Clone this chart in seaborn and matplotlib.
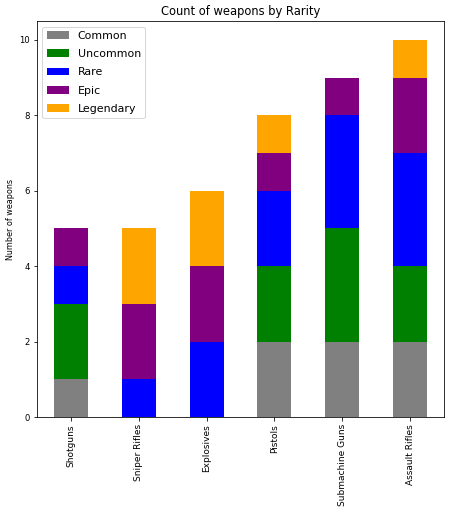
import matplotlib
matplotlib.use("Agg")
import matplotlib.pyplot as plt
import numpy as np
import pandas as pd
import seaborn as sns

categories = ["Shotguns", "Sniper Rifles", "Explosives", "Pistols",
              "Submachine Guns", "Assault Rifles"]
rarities = ["Common", "Uncommon", "Rare", "Epic", "Legendary"]
common = [1, 0, 0, 2, 2, 2]
uncommon = [2, 0, 0, 2, 3, 2]
rare = [1, 1, 2, 2, 3, 3]
epic = [1, 2, 2, 1, 1, 2]
legendary = [0, 2, 2, 1, 0, 1]
colors = ["grey", "green", "blue", "purple", "orange"]

df = pd.DataFrame({"Common": common, "Uncommon": uncommon, "Rare": rare,
                   "Epic": epic, "Legendary": legendary}, index=categories)
cum = df.cumsum(axis=1)

fig = plt.figure(figsize=(450 / 72, 513 / 72), dpi=72)
ax = fig.add_axes([0.082, 0.187, 0.905, 0.772])

# draw cumulative heights from top layer down so lower layers overlay
for rarity, color in reversed(list(zip(rarities, colors))):
    sns.barplot(x=categories, y=cum[rarity].values, color=color, width=0.5,
                saturation=1, ax=ax, label=rarity)

handles, labels = ax.get_legend_handles_labels()
order = [labels.index(r) for r in rarities]
ax.legend([handles[i] for i in order], rarities, loc="upper left",
          fontsize=11, labelspacing=0.75)

ax.set_title("Count of weapons by Rarity", fontsize=11.5)
ax.set_ylabel("Number of weapons", fontsize=8)
ax.set_xlabel("")
ax.set_ylim(0, 10.5)
ax.set_xlim(-0.5, 5.5)
ax.tick_params(axis="x", rotation=90, labelsize=9)
ax.tick_params(axis="y", labelsize=8.5)

fig.savefig("out.png", dpi=72)
